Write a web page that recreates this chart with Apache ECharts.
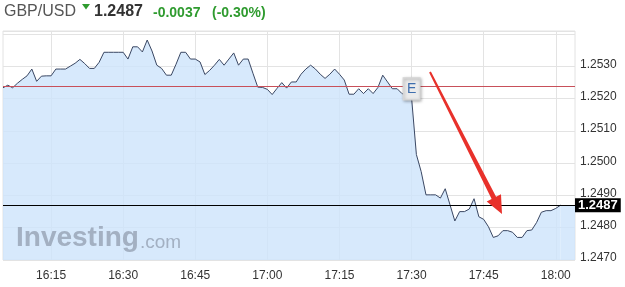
<!DOCTYPE html>
<html><head><meta charset="utf-8">
<script src="https://cdn.jsdelivr.net/npm/echarts@6/dist/echarts.min.js"></script>
<style>html,body{margin:0;padding:0;background:#fff}#c{width:625px;height:287px}</style>
</head><body><div id="c"></div>
<script>
// ---- header values ----
const symbolName = 'GBP/USD';
const lastPrice = 1.2487;
const changeText = '-0.0037';
const changePctText = '(-0.30%)';
const prevClose = 1.2524;
const eventTime = '17:30';
const eventLabel = 'E';

// ---- minute categories 16:05 .. 18:04 ----
const startMinute = 16 * 60 + 5;
const endMinute = 18 * 60 + 4;
const times = [];
for (let m = startMinute; m <= endMinute; m++) {
  times.push(Math.floor(m / 60) + ':' + String(m % 60).padStart(2, '0'));
}

// ---- 1-minute prices (16:05 .. 18:01) ----
const prices = [
  1.25234, 1.25242, 1.25234, 1.25248, 1.25260, 1.25271, 1.25292, 1.25254, 1.25270, 1.25271,
  1.25271, 1.25292, 1.25292, 1.25292, 1.25301, 1.25310, 1.25322, 1.25309, 1.25294, 1.25294,
  1.25313, 1.25344, 1.25344, 1.25344, 1.25344, 1.25344, 1.25323, 1.25361, 1.25361, 1.25345,
  1.25382, 1.25348, 1.25304, 1.25294, 1.25273, 1.25273, 1.25307, 1.25344, 1.25344, 1.25323,
  1.25323, 1.25314, 1.25275, 1.25288, 1.25304, 1.25322, 1.25304, 1.25323, 1.25342, 1.25304,
  1.25323, 1.25323, 1.25279, 1.25236, 1.25235, 1.25229, 1.25213, 1.25232, 1.25250, 1.25233,
  1.25252, 1.25252, 1.25276, 1.25292, 1.25304, 1.25292, 1.25276, 1.25263, 1.25276, 1.25292,
  1.25276, 1.25258, 1.25214, 1.25214, 1.25231, 1.25216, 1.25231, 1.25216, 1.25235, 1.25273,
  1.25252, 1.25231, 1.25231, 1.25216, 1.25211, 1.25203, 1.25027, 1.24974, 1.24902, 1.24902,
  1.24902, 1.24892, 1.24921, 1.24871, 1.24821, 1.24850, 1.24850, 1.24858, 1.24890, 1.24834,
  1.24826, 1.24803, 1.24770, 1.24775, 1.24791, 1.24791, 1.24786, 1.24770, 1.24770, 1.24791,
  1.24793, 1.24816, 1.24848, 1.24853, 1.24853, 1.24860, 1.24870
];

// fill held at the last price to the right edge of the plot
const tailFill = times.map((t, i) => (i >= prices.length - 1 ? lastPrice : null));

// ---- axis ----
const yMin = 1.2470, yMax = 1.2541, yStep = 0.0010, yLabelMax = 1.2530;
const quarterHour = (idx, val) => Number(String(val).split(':')[1]) % 15 === 0;

const FONT = '"Liberation Sans", Arial, Helvetica, sans-serif';
const GREEN = '#2f9b2f';
const FILL = 'rgb(205,227,251)';

const chart = echarts.init(document.getElementById('c'), null, {renderer: 'canvas'});

// arrow geometry (annotation)
function arrowPoints(sx, sy, tx, ty, w0, w1, headLen, headHalf) {
  const dx = tx - sx, dy = ty - sy, L = Math.hypot(dx, dy);
  const ux = dx / L, uy = dy / L, nx = -uy, ny = ux;
  const bx = tx - ux * headLen, by = ty - uy * headLen;
  return [
    [sx + nx * w0, sy + ny * w0], [bx + nx * w1, by + ny * w1], [bx + nx * headHalf, by + ny * headHalf],
    [tx, ty],
    [bx - nx * headHalf, by - ny * headHalf], [bx - nx * w1, by - ny * w1], [sx - nx * w0, sy - ny * w0]
  ];
}

chart.setOption({
  animation: false,
  backgroundColor: '#fff',
  textStyle: {fontFamily: FONT},
  grid: {left: 3, right: 50, top: 31, bottom: 27, show: true, borderColor: '#e2e2e2', borderWidth: 1, backgroundColor: 'transparent'},
  xAxis: {
    type: 'category',
    data: times,
    boundaryGap: false,
    axisLine: {show: false},
    axisTick: {show: false},
    axisLabel: {interval: quarterHour, color: '#333', fontSize: 12, margin: 10, fontFamily: FONT},
    splitLine: {show: true, interval: quarterHour, lineStyle: {color: '#e3e3e3', width: 1}}
  },
  yAxis: {
    type: 'value',
    position: 'right',
    min: yMin, max: yMax, interval: yStep,
    axisLine: {show: false},
    axisTick: {show: false},
    axisLabel: {
      color: '#333', fontSize: 12, margin: 5, fontFamily: FONT,
      verticalAlign: 'bottom', lineHeight: 4,
      showMaxLabel: false,
      formatter: v => (v > yLabelMax + 0.0005 ? '' : v.toFixed(4))
    },
    splitLine: {show: true, lineStyle: {color: '#e3e3e3', width: 1}}
  },
  series: [
    {
      type: 'line',
      data: prices,
      symbol: 'none',
      lineStyle: {color: '#3a4763', width: 1},
      areaStyle: {color: FILL, opacity: 0.8},
      z: 3,
      markLine: {
        silent: true,
        symbol: 'none',
        precision: 4,
        animation: false,
        data: [
          {yAxis: prevClose, lineStyle: {color: '#c8505a', width: 1, type: 'solid'}, label: {show: false}},
          {yAxis: lastPrice, lineStyle: {color: '#000', width: 1, type: 'solid'},
           label: {show: true, position: 'end', distance: 0, formatter: lastPrice.toFixed(4),
                   backgroundColor: '#000', color: '#fff', fontWeight: 'bold', fontSize: 13,
                   fontFamily: FONT, padding: [1, 3, 0, 3], lineHeight: 13}}
        ]
      },
      markPoint: {
        silent: true,
        data: [{
          coord: [eventTime, prevClose],
          symbol: 'rect', symbolSize: [17, 22], symbolOffset: [0, 3],
          itemStyle: {color: '#ebebeb', borderColor: '#d6d6d6', borderWidth: 1,
                      shadowBlur: 3, shadowColor: 'rgba(0,0,0,0.35)', shadowOffsetX: 1, shadowOffsetY: 1},
          label: {show: true, position: 'inside', formatter: eventLabel, color: '#3f6fae', fontSize: 14, fontFamily: FONT}
        }]
      }
    },
    {
      type: 'line',
      data: tailFill,
      symbol: 'none',
      lineStyle: {width: 0, opacity: 0},
      areaStyle: {color: FILL, opacity: 0.8},
      z: 2
    }
  ],
  graphic: [
    {type: 'text', left: 4, top: 4, style: {text: symbolName, fill: '#555', font: '16px ' + FONT}},
    {type: 'polygon', shape: {points: [[82, 4], [90, 4], [86, 9.5]]}, style: {fill: GREEN}},
    {type: 'text', left: 94, top: 4, style: {text: lastPrice.toFixed(4), fill: '#333', font: 'bold 16px ' + FONT}},
    {type: 'text', left: 153, top: 6, style: {text: changeText, fill: GREEN, font: 'bold 14px ' + FONT}},
    {type: 'text', left: 212, top: 6, style: {text: changePctText, fill: GREEN, font: 'bold 14px ' + FONT}},
    {type: 'text', left: 16, top: 224, z: 50, style: {text: 'Investing', fill: '#a3b0c2', font: 'bold 28px ' + FONT}},
    {type: 'text', left: 140, top: 233, z: 50, style: {text: '.com', fill: '#a3b0c2', font: '19px ' + FONT}},
    {type: 'polygon', z: 60, shape: {points: arrowPoints(430, 72, 502, 214, 1, 2.5, 18, 8)}, style: {fill: '#e8312b'}}
  ]
});
</script>
</body></html>
